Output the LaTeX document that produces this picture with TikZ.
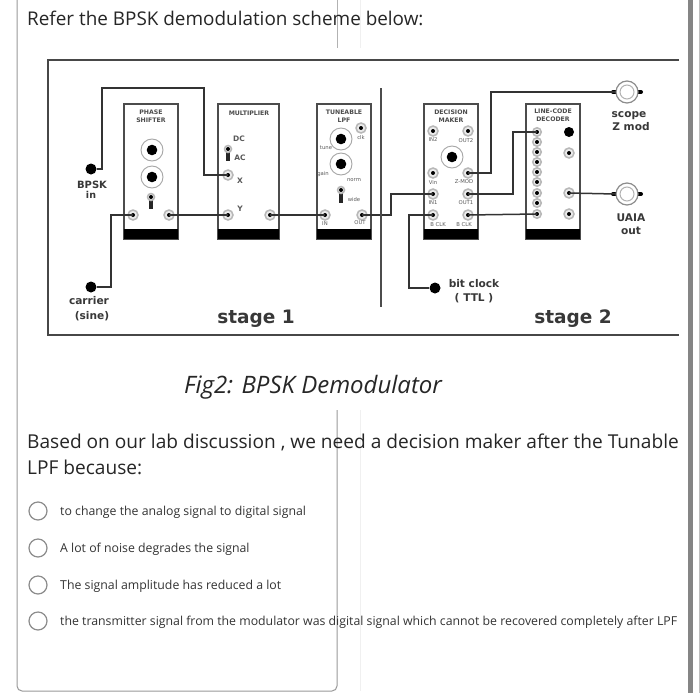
\documentclass[tikz,border=0pt]{standalone}
\usepackage{fontspec}
\setmainfont{Open Sans}
\newfontfamily\labelfont{DejaVu Sans}
\tikzset{
  x=1pt,y=-1pt,
  wire/.style={draw=black!80,line width=1.5pt,line join=miter},
  modbox/.style={draw=black!70,line width=1.2pt,fill=white},
  band/.style={fill=black,draw=none},
  port/.style={circle,draw=black!28,fill=black!8,line width=1.5pt,minimum size=10pt,inner sep=0pt,
     path picture={\fill[black] (path picture bounding box.center) circle (2pt);}},
  knob/.style={circle,draw=black!35,line width=.9pt,fill=white,minimum size=22pt,inner sep=0pt,
     path picture={\fill[black] (path picture bounding box.center) circle (5.3pt);}},
  term/.style={circle,fill=black,minimum size=11pt,inner sep=0pt},
  bnc/.style={circle,draw=black!45,line width=1.2pt,fill=white,minimum size=22pt,inner sep=0pt,
     path picture={\draw[black!30,line width=1pt] (path picture bounding box.center) circle (7pt);}},
  stub/.style={line width=4pt,black,line cap=round},
  lab/.style={font=\labelfont\bfseries\fontsize{10.6}{12}\selectfont,text=black!78,inner sep=0pt},
  tiny/.style={font=\labelfont\fontsize{5.3}{6}\selectfont,text=black!65,inner sep=0pt},
  tinyb/.style={font=\labelfont\bfseries\fontsize{6.2}{8.5}\selectfont,text=black!70,inner sep=0pt,align=center},
  xylab/.style={font=\labelfont\bfseries\fontsize{7.5}{8}\selectfont,text=black!65,inner sep=0pt},
  stage/.style={font=\labelfont\bfseries\fontsize{18.5}{20}\selectfont,text=black!78,inner sep=0pt},
  radio/.style={circle,draw=black!45,line width=1.2pt,minimum size=18pt,inner sep=0pt},
  opt/.style={font=\fontsize{12.3}{14}\selectfont,text=black!80,anchor=west,inner sep=0pt},
  para/.style={font=\fontsize{19.1}{22}\selectfont,text=black!85,anchor=west,inner sep=0pt},
  swt/.style={line width=3.4pt,black!85},
}
\begin{document}
\begin{tikzpicture}
\useasboundingbox (0,0) rectangle (700,693);
\fill[white] (0,0) rectangle (700,693);
% page card
\draw[black!6,line width=1pt] (360,0) -- (360,48);
\draw[black!6,line width=1pt] (360,410) -- (360,691);
\draw[black!40,line width=1pt,rounded corners=5pt] (17,-5) -- (17,691) -- (337,691) -- (337,410);
\draw[black!30,line width=1pt] (337,0) -- (337,48);
\fill[black!48] (687.5,0) rectangle (692.5,693);
\fill[black!25] (698.5,0) rectangle (700,693);
% frame
\draw[black!72,line width=1.5pt] (679,60) -- (48,60) -- (48,335) -- (679,335);
% modules
\foreach \n/\xa/\xb in {ps/124/178,mu/218/279,lp/317/371,dm/424/478,lc/526/580}{
  \draw[modbox] (\xa,104) rectangle (\xb,239);
  \fill[band] (\xa,229) rectangle (\xb,239);
}
\node[tinyb] (psT) at (151,116) {PHASE\\SHIFTER};
\node[tinyb] (muT) at (249,113) {MULTIPLIER};
\node[tinyb] (lpT) at (344,116) {TUNEABLE\\LPF};
\node[tinyb] (dmT) at (451,116) {DECISION\\MAKER};
\node[tinyb] (lcT) at (553,115) {LINE-CODE\\DECODER};
% knobs
\node[knob] (k1) at (152,150) {};
\node[knob] (k2) at (152,177) {};
\node[knob] (k3) at (341,139) {};
\node[knob] (k4) at (341,164) {};
\node[knob] (k5) at (452,157) {};
% toggles
\draw[swt] (151,199) -- (151,209); \node[port,minimum size=7pt] (s1) at (151,197) {};
\draw[swt] (228,151) -- (228,161); \node[port,minimum size=7pt] (s2) at (228,149) {};
\draw[swt] (341,192) -- (341,203); \node[port,minimum size=7pt] (s3) at (341,190) {};
% ports
\node[port] (psi) at (133,215) {};
\node[port] (pso) at (169,215) {};
\node[port] (mx) at (228,175) {};
\node[port] (my) at (228,215) {};
\node[port] (mo) at (270,215) {};
\node[port] (li) at (325,215) {};
\node[port] (lo) at (362,215) {};
\node[port] (lc) at (361,128) {};
\node[port] (i2) at (433,131) {};
\node[port] (o2) at (468,131) {};
\node[port] (vi) at (433,173) {};
\node[port] (zm) at (468,173) {};
\node[port] (in) at (433,194) {};
\node[port] (o1) at (468,194) {};
\node[port] (bi) at (433,215) {};
\node[port] (bo) at (468,215) {};
\foreach \i/\y in {a/132,b/142,c/152,d/162,e/172,f/182,g/193,h/203,j/214}{
  \node[port,minimum size=8.5pt] (lc\i) at (537,\y) {};
}
\node[term,minimum size=10pt] (r0) at (569,132) {};
\node[port] (r1) at (569,153) {};
\node[port] (r2) at (569,193) {};
\node[port] (r3) at (569,214) {};
% tiny labels
\node[xylab] (t1) at (239,139) {DC};
\node[xylab] (t2) at (240,158) {AC};
\node[xylab] (t3) at (240,181) {X};
\node[xylab] (t4) at (240,209) {Y};
\node[tiny] (t5) at (361,138) {clk};
\node[tiny] (t6) at (326,148) {tune};
\node[tiny] (t7) at (323,174) {gain};
\node[tiny] (t8) at (354,180) {norm};
\node[tiny] (t9) at (354,200) {wide};
\node[tiny] (t10) at (325,224) {IN};
\node[tiny] (t11) at (360,223) {OUT};
\node[tiny] (t12) at (433,140) {IN2};
\node[tiny] (t13) at (466,141) {OUT2};
\node[tiny] (t14) at (433,182) {Vin};
\node[tiny] (t15) at (464,182) {Z-MOD};
\node[tiny] (t16) at (433,203) {IN1};
\node[tiny] (t17) at (466,203) {OUT1};
\node[tiny] (t18) at (438,225) {B CLK};
\node[tiny] (t19) at (464,225) {B CLK};
% terminals
\node[term] (bpsk) at (91,169) {};
\node[term] (carr) at (91,287) {};
\node[term] (bclk) at (435,288) {};
\draw[stub] (613,92) -- (641,92);
\draw[stub] (613,194) -- (641,194);
\node[bnc] (scope) at (627,92) {};
\node[bnc] (uaia) at (627,194) {};
% wires
\coordinate (w1) at (102,169); \coordinate (w2) at (102,88); \coordinate (w3) at (204,88); \coordinate (w4) at (204,175);
\draw[wire] (bpsk) -- (w1) -- (w2) -- (w3) -- (w4) -- (mx.center);
\coordinate (w5) at (111,287); \coordinate (w6) at (111,215);
\draw[wire] (carr) -- (w5) -- (w6) -- (psi.center);
\draw[wire] (pso.center) -- (my.center);
\draw[wire] (mo.center) -- (li.center);
\coordinate (w7) at (391,215); \coordinate (w8) at (391,194);
\draw[wire] (lo.center) -- (w7) -- (w8) -- (in.center);
\coordinate (sepa) at (381,88); \coordinate (sepb) at (381,307);
\draw[black!70,line width=1.4pt] (sepa) -- (sepb);
\coordinate (w9) at (409,288); \coordinate (w10) at (409,215);
\draw[wire] (bclk) -- (w9) -- (w10) -- (bi.center);
\coordinate (w11) at (491,173); \coordinate (w12) at (491,92);
\draw[wire] (zm.center) -- (w11) -- (w12) -- (scope.west);
\coordinate (w13) at (513,194); \coordinate (w14) at (513,132);
\draw[wire] (o1.center) -- (w13) -- (w14) -- (lca.center);
\draw[wire] (bo.center) -- (lcj.center);
\draw[wire] (r2.center) -- (uaia.west);
% big labels
\node[lab,font=\labelfont\bfseries\fontsize{10}{10}\selectfont] (l1) at (92,185) {BPSK};
\node[lab,font=\labelfont\bfseries\fontsize{9.5}{10}\selectfont] (l2) at (91,195) {in};
\node[lab] (l3) at (89,301) {carrier};
\node[lab] (l4) at (92,316) {(sine)};
\node[stage] (l5) at (256,319) {stage 1};
\node[stage] (l6) at (573,319) {stage 2};
\node[lab] (l7) at (629,116) {scope};
\node[lab] (l8) at (631,127) {Z mod};
\node[lab] (l9) at (631,218) {UAIA};
\node[lab] (l10) at (631,231) {out};
\node[lab] (l11) at (474,284) {bit clock};
\node[lab] (l12) at (474,298) {( TTL )};
% text
\node[para,font=\fontsize{18.9}{22}\selectfont] (h1) at (27,18) {Refer the BPSK demodulation scheme below:};
\node[font=\itshape\fontsize{24}{26}\selectfont,text=black!85,inner sep=0] (h2) at (313,387) {Fig2: BPSK Demodulator};
\node[para] (h3) at (27,442.5) {Based on our lab discussion , we need a decision maker after the Tunable};
\node[para] (h4) at (27,467.5) {LPF because:};
\foreach \n/\y/\t in {a/511/{to change the analog signal to digital signal},b/548/{A lot of noise degrades the signal},c/585/{The signal amplitude has reduced a lot},d/621/{the transmitter signal from the modulator was digital signal which cannot be recovered completely after LPF}}{
  \node[radio] (rad\n) at (38,\y) {};
  \node[opt] (opt\n) at (60,\y+1) {\t};
}
\end{tikzpicture}
\end{document}
